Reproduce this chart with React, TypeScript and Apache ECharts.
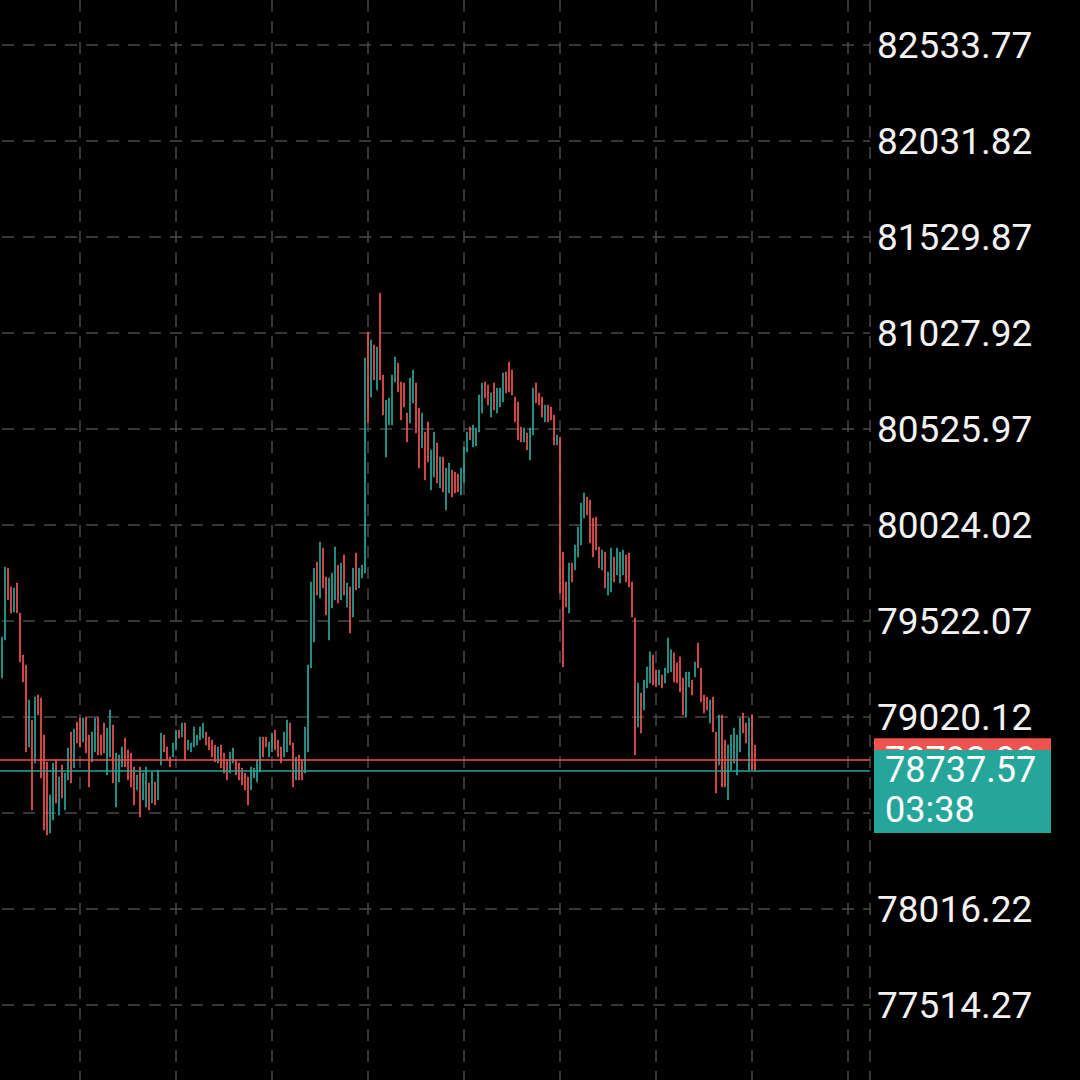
import React, { useEffect, useRef } from "react";
import * as echarts from "echarts";

// Candle bodies (open / close), left to right
const opens = [
  79224.03, 79422.72, 79799.19, 79699.84, 79569.13, 79720.76, 79563.9, 79344.29, 79292.0, 78863.25,
  79004.43, 78779.59, 79135.14, 79119.46, 78926.0, 78784.82, 78413.6, 78481.57, 78795.28, 78507.71,
  78769.13, 78533.85, 78690.7, 78941.68, 78753.44, 78993.97, 79014.88, 78889.29, 79020.12, 78926.0,
  78784.82, 78837.11, 79020.12, 78926.0, 78988.74, 78716.85, 78810.96, 78978.28, 78549.54, 78680.22,
  78758.67, 78910.31, 78847.57, 78831.88, 78758.67, 78638.44, 78758.67, 78586.14, 78549.54, 78674.99,
  78570.45, 78680.22, 78586.14, 78769.13, 78926.0, 78863.25, 78810.96, 78810.96, 78847.57, 78952.14,
  78915.54, 78988.74, 78847.57, 78837.11, 78863.25, 78873.62, 78899.75, 78910.31, 78941.68, 78915.54,
  78899.75, 78873.62, 78779.59, 78873.62, 78831.88, 78795.28, 78727.3, 78779.59, 78795.28, 78779.59,
  78753.44, 78727.3, 78706.39, 78638.44, 78701.16, 78680.22, 78732.53, 78915.54, 78915.54, 78810.96,
  78837.11, 78952.14, 78899.75, 78863.25, 78810.96, 78837.11, 78988.74, 78884.06, 78690.7, 78821.42,
  78795.28, 78727.3, 78837.11, 79276.31, 79412.26, 79830.56, 79642.33, 79903.76, 79752.13, 79422.72,
  79590.04, 79631.87, 79814.88, 79631.87, 79867.17, 79595.27, 79699.84, 79542.98, 79877.62, 79694.61,
  79746.9, 79773.05, 81033.15, 80693.29, 80965.18, 80729.89, 81237.07, 80808.32, 80379.58, 80546.89,
  80546.89, 80771.72, 80871.07, 80771.72, 80766.49, 80609.63, 80557.34, 80661.91, 80766.49, 80635.77,
  80426.62, 80510.28, 80562.57, 80207.03, 80275.0, 80452.76, 80217.48, 80379.58, 80102.45, 80191.34,
  80311.6, 80301.15, 80290.69, 80180.88, 80243.63, 80405.72, 80536.43, 80431.85, 80437.08, 80510.28,
  80609.63, 80771.72, 80756.03, 80588.72, 80766.49, 80609.63, 80641.0, 80667.14, 80824.0, 80876.3,
  80834.46, 80693.29, 80667.14, 80536.43, 80457.99, 80505.05, 80363.89, 80494.6, 80766.49, 80714.2,
  80693.29, 80562.57, 80651.46, 80641.0, 80599.17, 80442.3, 80484.14, 79882.85, 79725.99, 79563.9,
  79825.34, 79788.74, 79856.71, 79919.45, 80060.62, 80170.43, 80154.74, 80060.62, 80065.85, 79908.99,
  79788.74, 79882.85, 79658.01, 79673.7, 79856.71, 79762.59, 79720.76, 79762.59, 79867.17, 79877.62,
  79725.99, 79537.75, 78967.83, 79145.6, 79056.71, 79171.74, 79197.89, 79344.29, 79265.86, 79187.44,
  79239.72, 79197.89, 79250.17, 79255.4, 79355.75, 79303.46, 79334.83, 79224.03, 79020.12, 79176.97,
  79213.57, 79229.26, 79407.03, 79276.31, 79135.14, 79124.69, 78988.74, 79124.69, 78941.68, 78769.13,
  79030.57, 78899.75, 78586.14, 78742.99, 78779.59, 78716.85, 78837.11, 79041.03, 78988.74, 78742.99,
  79030.57, 78873.62,
];

const closes = [
  79438.41, 79804.42, 79631.87, 79563.9, 79694.61, 79563.9, 79307.69, 79203.12, 78837.11, 79109.0,
  78533.85, 79124.69, 79030.57, 78701.16, 78429.28, 78403.14, 78612.28, 78779.59, 78570.45, 78706.39,
  78596.6, 78727.3, 78858.02, 78674.99, 78957.37, 78884.06, 78863.25, 79014.88, 78831.88, 78654.12,
  78941.68, 79014.88, 78821.42, 78821.42, 78831.88, 78962.6, 79056.71, 78674.99, 78831.88, 78821.42,
  78863.25, 78758.67, 78690.7, 78654.12, 78560.0, 78716.85, 78497.25, 78727.3, 78758.67, 78533.85,
  78732.53, 78560.0, 78742.99, 78936.46, 78837.11, 78795.28, 78758.67, 78884.06, 78952.14, 78910.31,
  78988.74, 78795.28, 78899.75, 78884.06, 78967.83, 78926.0, 78967.83, 78988.74, 78873.62, 78847.57,
  78810.96, 78784.82, 78863.25, 78753.44, 78727.3, 78690.7, 78837.11, 78858.02, 78716.85, 78690.7,
  78664.56, 78638.44, 78560.0, 78758.67, 78753.44, 78795.28, 78915.54, 78810.96, 78863.25, 78889.29,
  78936.46, 78847.57, 78810.96, 78779.59, 78941.68, 79004.43, 78873.62, 78654.12, 78810.96, 78690.7,
  78690.7, 78967.83, 79292.0, 79725.99, 79799.19, 79658.01, 79935.13, 79694.61, 79553.44, 79746.9,
  79773.05, 79908.99, 79616.18, 79825.34, 79658.01, 79720.76, 79459.32, 79799.19, 79684.15, 79799.19,
  79814.88, 80897.21, 80562.57, 80991.32, 80782.17, 80954.72, 80782.17, 80599.17, 80677.6, 80688.06,
  80808.32, 80902.44, 80719.43, 80573.03, 80641.0, 80457.99, 80792.63, 80834.46, 80505.05, 80322.06,
  80609.63, 80259.31, 80353.43, 80416.18, 80510.28, 80243.63, 80379.58, 80196.57, 80322.06, 80348.2,
  80170.43, 80191.34, 80196.57, 80322.06, 80431.85, 80510.28, 80468.46, 80546.89, 80531.2, 80703.74,
  80766.49, 80688.06, 80651.46, 80714.2, 80625.32, 80740.34, 80740.34, 80818.77, 80714.2, 80719.43,
  80703.74, 80562.57, 80468.46, 80457.99, 80531.2, 80416.18, 80531.2, 80740.34, 80661.91, 80651.46,
  80588.72, 80651.46, 80562.57, 80573.03, 80442.3, 80494.6, 79668.47, 79281.54, 79595.27, 79825.34,
  79725.99, 79919.45, 80013.57, 80139.05, 80191.34, 80076.31, 79929.9, 79856.71, 79893.3, 79799.19,
  79893.3, 79694.61, 79778.28, 79903.76, 79725.99, 79903.76, 79882.85, 79893.3, 79725.99, 79699.84,
  79542.98, 78821.42, 79197.89, 78936.46, 79213.57, 79281.54, 79360.98, 79187.44, 79176.97, 79265.86,
  79171.74, 79276.31, 79433.18, 79371.44, 79203.12, 79197.89, 79150.83, 79030.57, 79255.4, 79255.4,
  79135.14, 79307.69, 79276.31, 79098.54, 79041.03, 79056.71, 79109.0, 78941.68, 78622.74, 79030.57,
  78654.12, 78654.12, 78873.62, 78926.0, 78962.6, 78926.0, 79014.88, 78936.46, 78884.06, 79014.88,
  78742.99, 78737.57,
];

// Price scale (right axis) tick labels, top to bottom
const priceTicks = [
  82533.77, 82031.82, 81529.87, 81027.92, 80525.97, 80024.02, 79522.07, 79020.12, 78518.17, 78016.22,
  77514.27,
];
const priceStep = 501.95;
const priceMin = priceTicks[priceTicks.length - 1] - priceStep; // one step below the last label
const priceMax = priceTicks[0] + priceStep; // one step above the first label

const redLinePrice = 78793.99;
const lastPrice = 78737.57;
const countdown = "03:38";

const LEAD = 6; // empty slots left of the first candle
const SLOT_STEP = 32; // vertical grid line every 32 slots
const SLOT_MAX = 295.333;

// The chart canvas is larger than the window and shifted so that the
// outermost (unlabelled) grid steps fall outside the visible page.
const OFF_X = 16;
const OFF_Y = 51;
const CHART_W = 1096;
const CHART_H = 1152;

const UP = "#26a69a";
const DOWN = "#ef5350";

export default function App() {
  const ref = useRef<HTMLDivElement>(null);

  useEffect(() => {
    const el = ref.current;
    if (!el) return;
    const chart = echarts.init(el, null, { renderer: "svg" });

    const candles = opens.map((o, i) => {
      const c = closes[i];
      return [i + LEAD, o, c, Math.min(o, c), Math.max(o, c)];
    });

    chart.setOption({
      animation: false,
      backgroundColor: "#000000",
      grid: { left: 0, right: 210, top: 0, bottom: 0 },
      xAxis: {
        type: "value",
        min: 0,
        max: SLOT_MAX,
        interval: SLOT_STEP,
        axisLine: { show: false },
        axisTick: { show: false },
        axisLabel: { show: false },
        splitLine: {
          show: true,
          lineStyle: { color: "#48484d", width: 1.5, type: [12, 9], dashOffset: 12 },
        },
      },
      yAxis: {
        type: "value",
        position: "right",
        min: priceMin,
        max: priceMax,
        interval: priceStep,
        axisLine: { show: true, lineStyle: { color: "#45474f", width: 2 } },
        axisTick: { show: false },
        axisLabel: {
          show: true,
          showMinLabel: false,
          showMaxLabel: false,
          color: "#f2f2f2",
          fontSize: 37,
          fontFamily: "Roboto",
          margin: 7,
          formatter: (v: number) => v.toFixed(2),
        },
        splitLine: {
          show: true,
          lineStyle: { color: "#48484d", width: 1.5, type: [12, 9], dashOffset: 3 },
        },
      },
      series: [
        {
          type: "candlestick",
          data: candles,
          barWidth: 1.6,
          itemStyle: {
            color: UP,
            color0: DOWN,
            borderColor: UP,
            borderColor0: DOWN,
            borderWidth: 0.7,
          },
          markLine: {
            silent: true,
            symbol: ["none", "none"],
            label: { show: false },
            data: [
              { yAxis: redLinePrice, lineStyle: { color: DOWN, width: 1.6, type: "solid" } },
              { yAxis: lastPrice, lineStyle: { color: UP, width: 1.6, type: "solid" } },
            ],
          },
        },
      ],
    });

    const yRed = chart.convertToPixel({ yAxisIndex: 0 }, redLinePrice) as number;
    const yLast = chart.convertToPixel({ yAxisIndex: 0 }, lastPrice) as number;
    const boxX = 874 + OFF_X;
    const boxW = 177;
    const textX = 885 + OFF_X;

    chart.setOption({
      graphic: [
        {
          type: "rect",
          z: 100,
          shape: { x: boxX, y: yRed - 22, width: boxW, height: 44 },
          style: { fill: DOWN },
        },
        {
          type: "text",
          z: 101,
          style: {
            text: redLinePrice.toFixed(2),
            x: textX,
            y: yRed,
            fill: "#ffffff",
            fontSize: 36,
            fontFamily: "Roboto",
            verticalAlign: "middle",
          },
        },
        {
          type: "rect",
          z: 102,
          shape: { x: boxX, y: yLast - 21, width: boxW, height: 83 },
          style: { fill: UP },
        },
        {
          type: "text",
          z: 103,
          style: {
            text: lastPrice.toFixed(2),
            x: textX,
            y: yLast - 1,
            fill: "#ffffff",
            fontSize: 36,
            fontFamily: "Roboto",
            verticalAlign: "middle",
          },
        },
        {
          type: "text",
          z: 103,
          style: {
            text: countdown,
            x: textX,
            y: yLast + 39,
            fill: "#ffffff",
            fontSize: 36,
            fontFamily: "Roboto",
            verticalAlign: "middle",
          },
        },
      ],
    });

    return () => {
      chart.dispose();
    };
  }, []);

  return (
    <div
      style={{
        position: "fixed",
        left: 0,
        top: 0,
        width: 1080,
        height: 1080,
        overflow: "hidden",
        background: "#000",
      }}
    >
      <div
        ref={ref}
        style={{ position: "absolute", left: -OFF_X, top: -OFF_Y, width: CHART_W, height: CHART_H }}
      />
    </div>
  );
}
